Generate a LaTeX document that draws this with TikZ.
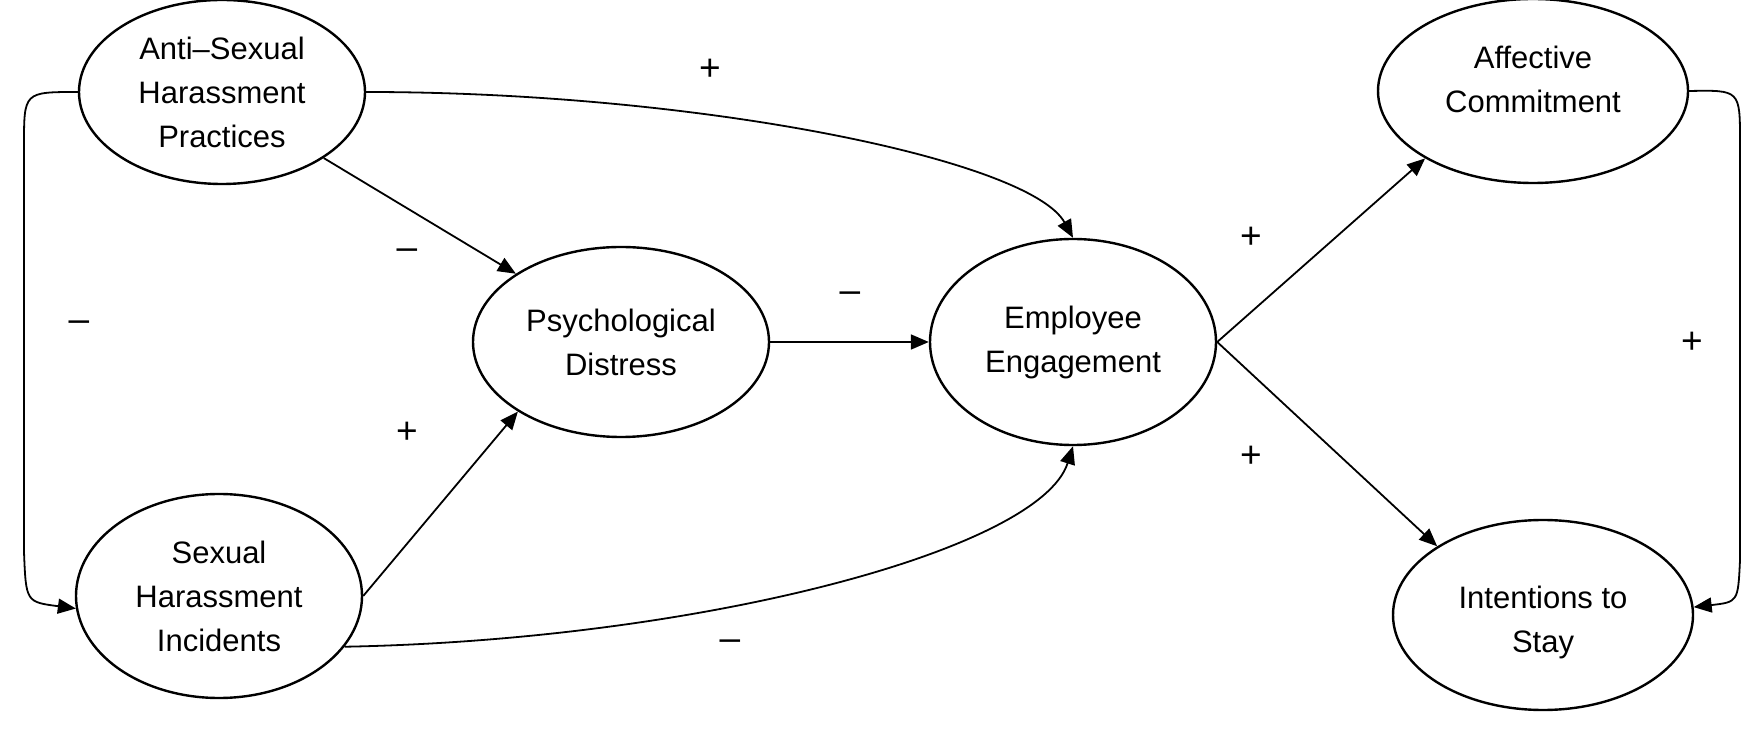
\documentclass[tikz,border=0pt]{standalone}
\usepackage{fontspec}
\setmainfont{Liberation Sans}
\usetikzlibrary{arrows.meta,shapes.geometric}
\begin{document}
\begin{tikzpicture}[x=0.5pt,y=-0.5pt,
  latent/.style={ellipse, draw, line width=1.2pt, inner sep=0pt, align=center,
    font=\fontsize{15.5}{22}\selectfont},
  ltext/.style={inner sep=0pt, align=center, font=\fontsize{15.5}{22}\selectfont},
  conn/.style={line width=0.9pt, -{Triangle[length=9pt,width=7.5pt]}},
  sign/.style={inner sep=0pt, font=\fontsize{18.5}{22}\selectfont}]
\useasboundingbox[fill=white] (0,0) rectangle (1750,742);

\node[latent, minimum width=143pt, minimum height=92pt]  (A) at (222,92)   {Anti–Sexual\\Harassment\\Practices};
\node[latent, minimum width=143pt, minimum height=102pt] (S) at (219,596)  {Sexual\\Harassment\\Incidents};
\node[latent, minimum width=148pt, minimum height=95pt]  (P) at (621,342)  {Psychological\\Distress};
\node[latent, minimum width=143pt, minimum height=103pt] (E) at (1073,342) {Employee\\Engagement};
\node[latent, minimum width=155pt, minimum height=92pt]  (C) at (1533,91)  {};
\node[ltext] (Ct) at (1533,79) {Affective\\Commitment};
\node[latent, minimum width=150pt, minimum height=95pt]  (I) at (1543,615) {};
\node[ltext] (It) at (1543,622) {Intentions to\\Stay};

\coordinate (L1) at (24,145);
\coordinate (L2) at (24,552);
\coordinate (R1) at (1740,142);
\coordinate (R2) at (1740,560);

\draw[conn] (A.-33) -- (P.147);
\draw[conn] (S.east) -- (P.-146);
\draw[conn] (P.east) -- (E.west);
\draw[conn] (A.east) .. controls (700,92) and (1030,160) .. (E.north);
\draw[conn] (S.-22) .. controls (700,640) and (1040,550) .. (E.south);
\draw[conn] (E.east) -- (C.-148);
\draw[conn] (E.east) -- (I.147);
\draw[conn] (A.west) .. controls (24,92) .. (L1) -- (L2) .. controls (26,602) .. (S.185);
\draw[conn] (C.east) .. controls (1740,90) .. (R1) -- (R2) .. controls (1738,602) .. (I.3);

\node[sign] (s1) at (710,70)   {+};
\node[sign] (s2) at (407,254)  {–};
\node[sign] (s3) at (79,326)   {–};
\node[sign] (s4) at (407,433)  {+};
\node[sign] (s5) at (850,297)  {–};
\node[sign] (s6) at (730,645)  {–};
\node[sign] (s7) at (1251,238) {+};
\node[sign] (s8) at (1251,457) {+};
\node[sign] (s9) at (1692,343) {+};
\end{tikzpicture}
\end{document}
